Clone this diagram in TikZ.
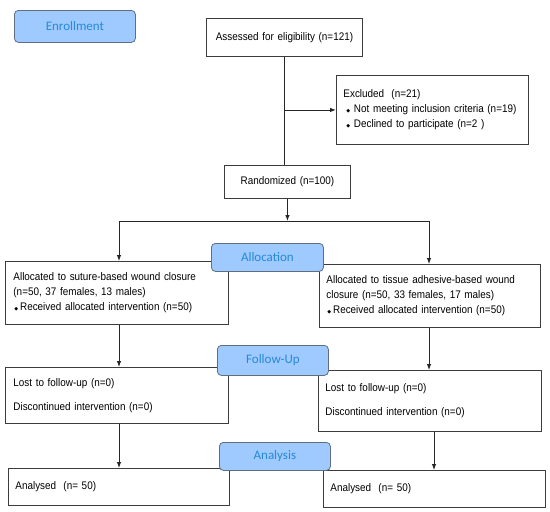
\documentclass[tikz,border=0pt]{standalone}
\usepackage{fontspec}
\setmainfont{Liberation Sans}[FakeStretch=0.9]
\newfontfamily\labfont{Carlito}
\newfontfamily\dvfont{DejaVu Sans}
\usetikzlibrary{arrows.meta}
\definecolor{labfill}{RGB}{158,202,255}
\definecolor{labtext}{RGB}{40,138,212}
\definecolor{labdraw}{RGB}{95,110,130}
\definecolor{boxdraw}{RGB}{60,60,60}
\newcommand{\bul}{{\dvfont\fontsize{5}{5}\selectfont ◆}}
\tikzset{
  box/.style={draw=boxdraw, line width=0.9pt, inner xsep=7pt, inner ysep=0pt,
    align=left, anchor=north west, fill=white},
  lab/.style={draw=labdraw, line width=0.8pt, fill=labfill, rounded corners=4pt,
    text=labtext, font=\labfont\fontsize{13}{13}\selectfont, anchor=north west,
    inner sep=0pt},
  ln/.style={draw=black!85, line width=0.9pt},
  arr/.style={ln, -{Latex[length=6pt,width=4.5pt]}}
}
\begin{document}
\begin{tikzpicture}[x=1pt,y=-1pt,font=\fontsize{11}{15}\selectfont]
\fill[white] (0,0) rectangle (550,512);
\useasboundingbox (0,0) rectangle (550,512);

% content boxes
\node[box, align=center, minimum width=156pt, minimum height=38pt, text width=142pt] (assess) at (206,18) {Assessed for eligibility (n=121)};
\node[box, minimum width=192pt, minimum height=69pt, text width=178pt] (excl) at (336,75)
  {Excluded~ (n=21)\\\hspace*{3pt}\bul\ Not meeting inclusion criteria (n=19)\\\hspace*{3pt}\bul\ Declined to participate (n=2 )};
\node[box, align=center, minimum width=126pt, minimum height=33pt, text width=112pt] (rand) at (224,165) {Randomized (n=100)};

\node[box, inner xsep=8pt, minimum width=223pt, minimum height=63pt, text width=207pt] (allocL) at (5,261)
  {Allocated to suture-based wound closure\\(n=50, 37 females, 13 males)\\\hspace*{1pt}\bul\,Received allocated intervention (n=50)};
\node[box, minimum width=221pt, minimum height=63pt, text width=207pt] (allocR) at (319,264)
  {Allocated to tissue adhesive-based wound\\closure (n=50, 33 females, 17 males)\\\hspace*{1pt}\bul\,Received allocated intervention (n=50)};

\node[box, inner xsep=8pt, minimum width=223pt, minimum height=56pt, text width=207pt] (fuL) at (5,367)
  {Lost to follow-up (n=0)\\[9pt]Discontinued intervention (n=0)};
\node[box, minimum width=223pt, minimum height=61pt, text width=209pt] (fuR) at (318,370)
  {Lost to follow-up (n=0)\\[9pt]Discontinued intervention (n=0)};

\node[box, minimum width=221pt, minimum height=37pt, text width=207pt] (anL) at (8,468) {Analysed~ (n= 50)};
\node[box, minimum width=222pt, minimum height=37pt, text width=208pt] (anR) at (323,470) {Analysed~ (n= 50)};

% connectors
\coordinate (spL) at (119,221);
\coordinate (spR) at (429,221);
\coordinate (cR) at (434,0);
\draw[ln] (assess.south) -- (assess.south |- rand.north);
\draw[arr] (assess.south |- excl.west) -- (excl.west);
\draw[arr] (rand.south) -- (rand.south |- spL);
\draw[ln] (spL) -- (spR);
\draw[arr] (spL) -- (spL |- allocL.north);
\draw[arr] (spR) -- (spR |- allocR.north);
\draw[arr] (spL |- allocL.south) -- (spL |- fuL.north);
\draw[arr] (spR |- allocR.south) -- (spR |- fuR.north);
\draw[arr] (spL |- fuL.south) -- (spL |- anL.north);
\draw[arr] (cR |- fuR.south) -- (cR |- anR.north);

% stage labels
\node[lab, minimum width=121pt, minimum height=32pt] (enroll) at (14,10) {Enrollment};
\node[lab, minimum width=112pt, minimum height=28pt] (alloc) at (211,243) {Allocation};
\node[lab, minimum width=111pt, minimum height=30pt] (follow) at (217,345) {Follow-Up};
\node[lab, minimum width=111pt, minimum height=28pt] (analysis) at (219,442) {Analysis};
\end{tikzpicture}
\end{document}
